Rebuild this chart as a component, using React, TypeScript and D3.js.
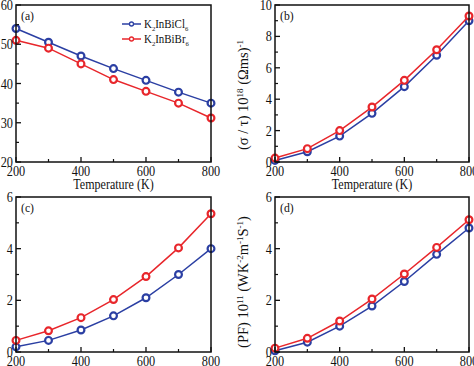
import * as d3 from 'd3';

const temps = [200, 300, 400, 500, 600, 700, 800];

// (a) Seebeck-like quantity
const aCl = [54, 50.5, 47, 43.8, 40.8, 37.8, 35];
const aBr = [51, 49, 45, 41, 38, 35, 31.2];
// (b) sigma / tau
const bCl = [0.1, 0.65, 1.65, 3.1, 4.8, 6.8, 9.0];
const bBr = [0.25, 0.85, 2.0, 3.5, 5.2, 7.15, 9.3];
// (c)
const cCl = [0.2, 0.45, 0.85, 1.4, 2.1, 3.0, 4.0];
const cBr = [0.45, 0.82, 1.33, 2.03, 2.92, 4.03, 5.35];
// (d) power factor
const dCl = [0.05, 0.38, 1.0, 1.78, 2.73, 3.78, 4.8];
const dBr = [0.15, 0.53, 1.2, 2.05, 3.02, 4.05, 5.12];

const xTicks = [200, 400, 600, 800];
const xMinor = [300, 500, 700];

const BLUE = '#2b3fa3';
const RED = '#e8262b';
const FONT = '"Liberation Serif", "DejaVu Serif", serif';

// text squeezed horizontally, like the reference scan
function Txt({ x, y, size, anchor = 'start', sx = 0.82, children }: any) {
  return (
    <text
      transform={`translate(${x},${y}) scale(${sx},1)`}
      textAnchor={anchor}
      fontSize={size}
      fontFamily={FONT}
      fill="#111"
    >
      {children}
    </text>
  );
}

interface PanelProps {
  x0: number;
  y0: number;
  x1: number;
  y1: number;
  yDomain: [number, number];
  yTicks: number[];
  yMinor: number[];
  cl: number[];
  br: number[];
  tag: string;
  xTitle?: boolean;
  legend?: boolean;
}

function Panel({ x0, y0, x1, y1, yDomain, yTicks, yMinor, cl, br, tag, xTitle, legend }: PanelProps) {
  const x = d3.scaleLinear().domain([200, 800]).range([x0, x1]);
  const y = d3.scaleLinear().domain(yDomain).range([y1, y0]);
  const line = d3
    .line<number>()
    .x((_, i) => x(temps[i]))
    .y((d) => y(d));

  const series = [
    { vals: cl, color: BLUE },
    { vals: br, color: RED },
  ];

  return (
    <g>
      {series.map((s, k) => (
        <g key={k}>
          <path d={line(s.vals) || ''} fill="none" stroke={s.color} strokeWidth={1.5} />
          {s.vals.map((v, i) => (
            <circle key={i} cx={x(temps[i])} cy={y(v)} r={3.4} fill="#fff" stroke={s.color} strokeWidth={2.2} />
          ))}
        </g>
      ))}
      <rect x={x0} y={y0} width={x1 - x0} height={y1 - y0} fill="none" stroke="#111" strokeWidth={1.5} />
      {yTicks.map((t) => (
        <g key={'y' + t}>
          <line x1={x0} x2={x0 + 5} y1={y(t)} y2={y(t)} stroke="#111" strokeWidth={1.3} />
          <Txt x={x0 - 3} y={y(t) + 5} size={15} anchor="end">
            {t}
          </Txt>
        </g>
      ))}
      {yMinor.map((t) => (
        <line key={'ym' + t} x1={x0} x2={x0 + 3} y1={y(t)} y2={y(t)} stroke="#111" strokeWidth={1.2} />
      ))}
      {xTicks.map((t) => (
        <g key={'x' + t}>
          <line x1={x(t)} x2={x(t)} y1={y1} y2={y1 - 5} stroke="#111" strokeWidth={1.3} />
          <Txt x={x(t)} y={y1 + 14} size={15} anchor="middle">
            {t}
          </Txt>
        </g>
      ))}
      {xMinor.map((t) => (
        <line key={'xm' + t} x1={x(t)} x2={x(t)} y1={y1} y2={y1 - 3} stroke="#111" strokeWidth={1.2} />
      ))}
      <Txt x={x0 + 5} y={y0 + 15} size={13} sx={0.9}>
        {tag}
      </Txt>
      {xTitle && (
        <Txt x={(x0 + x1) / 2} y={y1 + 27} size={14} anchor="middle" sx={0.86}>
          Temperature (K)
        </Txt>
      )}
      {legend && (
        <g>
          {[
            { color: BLUE, name: 'Cl', y: y0 + 19 },
            { color: RED, name: 'Br', y: y0 + 34 },
          ].map((l) => (
            <g key={l.name}>
              <line x1={x0 + 106} x2={x0 + 125} y1={l.y} y2={l.y} stroke={l.color} strokeWidth={1.5} />
              <circle cx={x0 + 115.5} cy={l.y} r={2} fill="#fff" stroke={l.color} strokeWidth={1.3} />
              <Txt x={x0 + 128} y={l.y + 4} size={11.5} sx={0.95}>
                K<tspan fontSize={7} dy={3}>2</tspan>
                <tspan dy={-3}>InBi{l.name}</tspan>
                <tspan fontSize={7} dy={3}>6</tspan>
              </Txt>
            </g>
          ))}
        </g>
      )}
    </g>
  );
}

export default function App() {
  return (
    <svg
      width={474}
      height={366}
      style={{ position: 'absolute', left: 0, top: 0, background: '#fff' }}
    >
      <Panel
        x0={16} y0={5} x1={211} y1={162}
        yDomain={[20, 60]} yTicks={[20, 30, 40, 50, 60]} yMinor={[25, 35, 45, 55]}
        cl={aCl} br={aBr} tag="(a)" xTitle legend
      />
      <Panel
        x0={275} y0={5} x1={469} y1={162}
        yDomain={[0, 10]} yTicks={[0, 2, 4, 6, 8, 10]} yMinor={[1, 3, 5, 7, 9]}
        cl={bCl} br={bBr} tag="(b)" xTitle
      />
      <Panel
        x0={16} y0={197} x1={211} y1={352}
        yDomain={[0, 6]} yTicks={[0, 2, 4, 6]} yMinor={[1, 3, 5]}
        cl={cCl} br={cBr} tag="(c)"
      />
      <Panel
        x0={275} y0={197} x1={469} y1={352}
        yDomain={[0, 6]} yTicks={[0, 2, 4, 6]} yMinor={[1, 3, 5]}
        cl={dCl} br={dBr} tag="(d)"
      />
      <text
        transform="translate(248,95) rotate(-90)"
        textAnchor="middle" fontSize={14.5} fontFamily={FONT} fill="#111"
      >
        (σ / τ) 10<tspan fontSize={9} dy={-5}>18</tspan>
        <tspan dy={5}> (Ωms)</tspan>
        <tspan fontSize={9} dy={-5}>-1</tspan>
      </text>
      <text
        transform="translate(248,282) rotate(-90)"
        textAnchor="middle" fontSize={14.5} fontFamily={FONT} fill="#111"
      >
        (PF) 10<tspan fontSize={9} dy={-5}>11</tspan>
        <tspan dy={5}> (WK</tspan>
        <tspan fontSize={9} dy={-5}>-2</tspan>
        <tspan dy={5}>m</tspan>
        <tspan fontSize={9} dy={-5}>-1</tspan>
        <tspan dy={5}>S</tspan>
        <tspan fontSize={9} dy={-5}>-1</tspan>
        <tspan dy={5}>)</tspan>
      </text>
    </svg>
  );
}
